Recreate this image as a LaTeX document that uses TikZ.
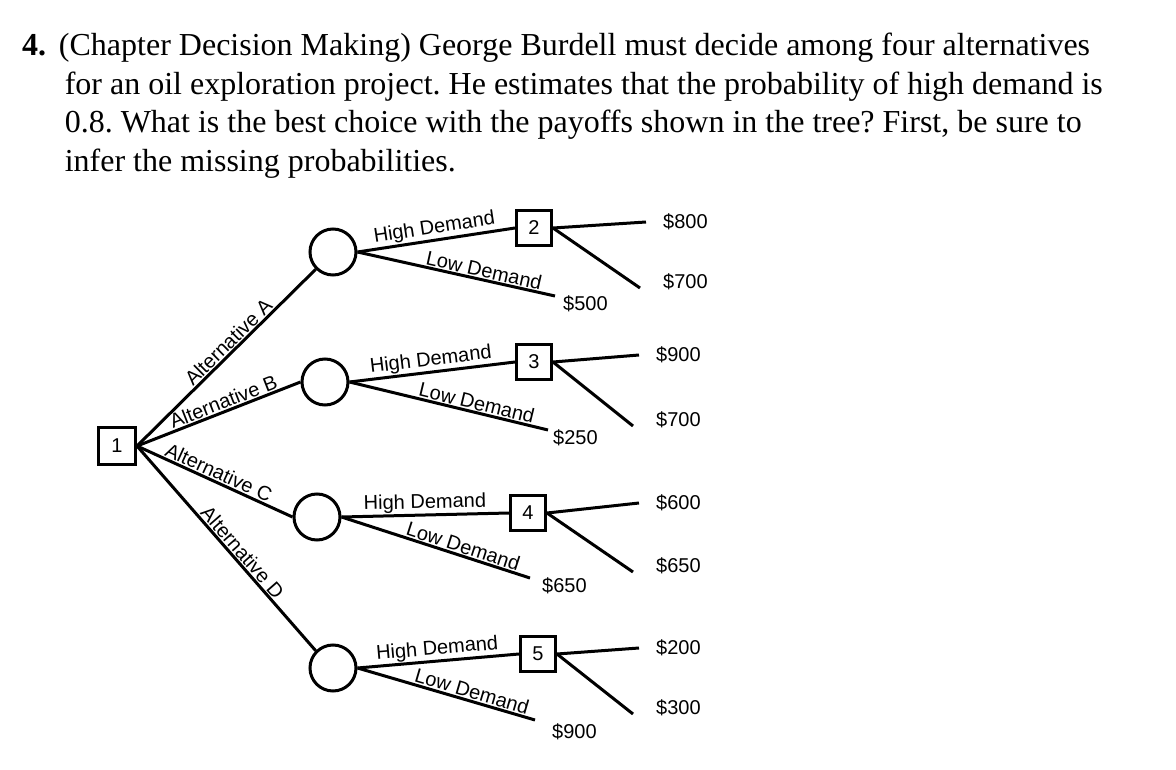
\documentclass[tikz,border=0pt]{standalone}
\usepackage{fontspec}
\setmainfont{Liberation Serif}
\newfontfamily\arialf{Liberation Sans}
\frenchspacing
\begin{document}
\begin{tikzpicture}[x=1pt,y=-1pt,
  lbl/.style={font=\arialf\fontsize{20}{22}\selectfont, inner sep=1pt},
  dsq/.style={draw, line width=3pt, minimum size=35pt, inner sep=0pt, font=\arialf\fontsize{20}{22}\selectfont},
  chance/.style={draw, circle, line width=3pt, minimum size=46pt, inner sep=0pt},
  br/.style={line width=3pt}]
\useasboundingbox (0,0) rectangle (1176,770);
\node[anchor=north west, align=left, font=\frenchspacing\fontsize{32}{38.5}\selectfont, inner sep=0pt] (title) at (22,33)
 {\textbf{4.}\hspace{0.4em}(Chapter Decision Making) George Burdell must decide among four alternatives\\
 \hspace{1.33em}for an oil exploration project. He estimates that the probability of high demand is\\
 \hspace{1.33em}0.8. What is the best choice with the payoffs shown in the tree? First, be sure to\\
 \hspace{1.33em}infer the missing probabilities.};
\node[dsq, minimum size=37pt] (n1) at (117,446) {1};
\node[chance] (cA) at (333,252) {};
\node[chance] (cB) at (325,382) {};
\node[chance] (cC) at (317,517) {};
\node[chance] (cD) at (333,668) {};
\node[dsq] (n2) at (534,228) {2};
\node[dsq] (n3) at (534,362) {3};
\node[dsq] (n4) at (528,513) {4};
\node[dsq] (n5) at (538,654) {5};
\draw[br] (n1.east) -- (cA.south west) node[lbl, pos=0.55, above, sloped] {Alternative A};
\draw[br] (n1.east) -- (cB.west) node[lbl, pos=0.55, above, sloped] {Alternative B};
\draw[br] (n1.east) -- (cC.west) node[lbl, pos=0.5, above, sloped] {Alternative C};
\draw[br] (n1.east) -- (cD.north west) node[lbl, pos=0.55, above, sloped] {Alternative D};
% A
\coordinate (lA) at (555,296);
\draw[br] (cA.east) -- (n2.west) node[lbl, pos=0.5, above, sloped] {High Demand};
\draw[br] (cA.east) -- (lA) node[lbl, pos=0.63, above, sloped] {Low Demand};
\node[lbl, anchor=west] (vA) at (562,304) {\$500};
\node[lbl, anchor=west] (pA1) at (662,222) {\$800};
\node[lbl, anchor=west] (pA2) at (662,282) {\$700};
\draw[br] (n2.east) -- ([xshift=-16pt]pA1.west);
\draw[br] (n2.east) -- ([xshift=-22pt,yshift=-6pt]pA2.west);
% B
\coordinate (lB) at (548,430);
\draw[br] (cB.east) -- (n3.west) node[lbl, pos=0.5, above, sloped] {High Demand};
\draw[br] (cB.east) -- (lB) node[lbl, pos=0.63, above, sloped] {Low Demand};
\node[lbl, anchor=west] (vB) at (552,438) {\$250};
\node[lbl, anchor=west] (pB1) at (655,355) {\$900};
\node[lbl, anchor=west] (pB2) at (655,420) {\$700};
\draw[br] (n3.east) -- ([xshift=-16pt]pB1.west);
\draw[br] (n3.east) -- ([xshift=-22pt,yshift=-6pt]pB2.west);
% C
\coordinate (lC) at (530,578);
\draw[br] (cC.east) -- (n4.west) node[lbl, pos=0.5, above, sloped] {High Demand};
\draw[br] (cC.east) -- (lC) node[lbl, pos=0.63, above, sloped] {Low Demand};
\node[lbl, anchor=west] (vC) at (541,586) {\$650};
\node[lbl, anchor=west] (pC1) at (655,503) {\$600};
\node[lbl, anchor=west] (pC2) at (655,566) {\$650};
\draw[br] (n4.east) -- ([xshift=-16pt]pC1.west);
\draw[br] (n4.east) -- ([xshift=-22pt,yshift=-6pt]pC2.west);
% D
\coordinate (lD) at (535,720);
\draw[br] (cD.east) -- (n5.west) node[lbl, pos=0.5, above, sloped] {High Demand};
\draw[br] (cD.east) -- (lD) node[lbl, pos=0.63, above, sloped] {Low Demand};
\node[lbl, anchor=west] (vD) at (551,732) {\$900};
\node[lbl, anchor=west] (pD1) at (655,648) {\$200};
\node[lbl, anchor=west] (pD2) at (655,708) {\$300};
\draw[br] (n5.east) -- ([xshift=-16pt]pD1.west);
\draw[br] (n5.east) -- ([xshift=-22pt,yshift=-6pt]pD2.west);
\end{tikzpicture}
\end{document}
